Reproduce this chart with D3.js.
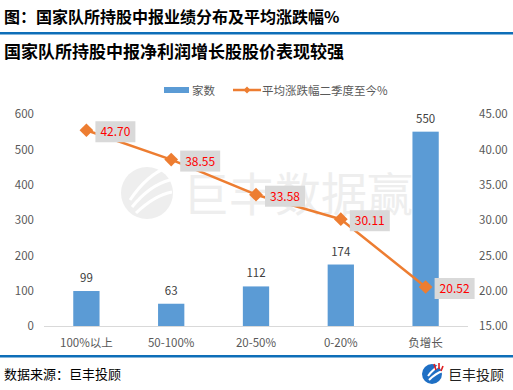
<!DOCTYPE html>
<html>
<head>
<meta charset="utf-8">
<script src="https://cdn.jsdelivr.net/npm/d3@7"></script>
<style>
body { margin: 0; background: #fff; }
svg { display: block; font-family: "Noto Sans CJK SC", "Microsoft YaHei", sans-serif; }
</style>
</head>
<body>
<div id="chart"></div>
<script>
var categories = ["100%以上", "50-100%", "20-50%", "0-20%", "负增长"];
var counts = [99, 63, 112, 174, 550];
var avgChange = [42.70, 38.55, 33.58, 30.11, 20.52];
var leftTicks = [0, 100, 200, 300, 400, 500, 600];
var rightTicks = [15, 20, 25, 30, 35, 40, 45];

var width = 513, height = 390;
var plotLeft = 44, plotRight = 468, plotTop = 114, plotBottom = 326;
var blue = "#5b9bd5", orange = "#ed7d31", axisGrey = "#595959";

var svg = d3.select("#chart").append("svg")
	.attr("width", width)
	.attr("height", height);

// header
svg.append("text")
	.attr("x", 4).attr("y", 23)
	.attr("font-size", 16).attr("font-weight", "bold").attr("fill", "#000")
	.text("图：国家队所持股中报业绩分布及平均涨跌幅%");
svg.append("rect").attr("x", 0).attr("y", 32).attr("width", width).attr("height", 2.5).attr("fill", "#0e6eb8");
svg.append("text")
	.attr("x", 4).attr("y", 58)
	.attr("font-size", 17).attr("font-weight", "bold").attr("fill", "#000")
	.text("国家队所持股中报净利润增长股股价表现较强");

// watermark
var wm = svg.append("g").attr("fill", "#eeeeee");
wm.append("circle").attr("cx", 147).attr("cy", 193).attr("r", 26);
wm.append("path")
	.attr("d", "M130,200 Q147,175 166,168 M132,207 Q150,185 170,180 M136,213 Q155,195 172,192")
	.attr("stroke", "#fff").attr("stroke-width", 3).attr("fill", "none");
wm.append("text")
	.attr("x", 183).attr("y", 211)
	.attr("font-size", 46)
	.text("巨丰数据赢");

var x = d3.scaleBand().domain(categories).range([plotLeft, plotRight]).paddingInner(0.69).paddingOuter(0.345);
var yL = d3.scaleLinear().domain([0, 600]).range([plotBottom, plotTop]);
var yR = d3.scaleLinear().domain([15, 45]).range([plotBottom, plotTop]);

// axes
var leftAxis = svg.append("g")
	.attr("transform", "translate(" + (plotLeft - 10) + ",0)")
	.call(d3.axisLeft(yL).tickValues(leftTicks).tickSize(0).tickPadding(0));
var rightAxis = svg.append("g")
	.attr("transform", "translate(" + (plotRight + 11) + ",0)")
	.call(d3.axisRight(yR).tickValues(rightTicks).tickSize(0).tickPadding(0).tickFormat(d3.format(".2f")));
[leftAxis, rightAxis].forEach(function(a) {
	a.select(".domain").remove();
	a.selectAll("text").attr("fill", axisGrey).attr("font-size", 11.5).attr("font-family", "\"Noto Sans CJK SC\", sans-serif");
});

// bars
svg.selectAll(".bar").data(counts).enter().append("rect")
	.attr("class", "bar")
	.attr("x", function(d, i) { return x(categories[i]); })
	.attr("y", function(d) { return yL(d); })
	.attr("width", x.bandwidth())
	.attr("height", function(d) { return plotBottom - yL(d); })
	.attr("fill", blue);

svg.selectAll(".barLabel").data(counts).enter().append("text")
	.attr("class", "barLabel")
	.attr("x", function(d, i) { return x(categories[i]) + x.bandwidth() / 2; })
	.attr("y", function(d) { return yL(d) - 9; })
	.attr("text-anchor", "middle")
	.attr("font-size", 11.5).attr("fill", "#404040")
	.text(function(d) { return d; });

// baseline
svg.append("line")
	.attr("x1", plotLeft).attr("x2", plotRight)
	.attr("y1", plotBottom + 0.5).attr("y2", plotBottom + 0.5)
	.attr("stroke", "#d9d9d9").attr("stroke-width", 1);

// category labels
svg.selectAll(".cat").data(categories).enter().append("text")
	.attr("class", "cat")
	.attr("x", function(d) { return x(d) + x.bandwidth() / 2; })
	.attr("y", 347)
	.attr("text-anchor", "middle")
	.attr("font-size", 11.5).attr("fill", axisGrey)
	.text(function(d) { return d; });

// line series
var cx = function(d, i) { return x(categories[i]) + x.bandwidth() / 2; };
var line = d3.line()
	.x(cx)
	.y(function(d) { return yR(d); });

svg.append("path")
	.datum(avgChange)
	.attr("d", line)
	.attr("fill", "none")
	.attr("stroke", orange)
	.attr("stroke-width", 2.5)
	.attr("stroke-linejoin", "round");

var diamond = d3.symbol().type(d3.symbolDiamond2).size(120);
svg.selectAll(".pt").data(avgChange).enter().append("path")
	.attr("class", "pt")
	.attr("d", diamond)
	.attr("transform", function(d, i) { return "translate(" + cx(d, i) + "," + yR(d) + ")"; })
	.attr("fill", orange);

var lab = svg.selectAll(".lineLabel").data(avgChange).enter().append("g")
	.attr("class", "lineLabel")
	.attr("transform", function(d, i) { return "translate(" + (cx(d, i) + 9) + "," + (yR(d) + 2) + ")"; });
lab.append("rect")
	.attr("x", 0).attr("y", -11)
	.attr("width", 40).attr("height", 21)
	.attr("fill", "#d9d9d9");
lab.append("text")
	.attr("x", 20).attr("y", 4)
	.attr("text-anchor", "middle")
	.attr("font-size", 12).attr("fill", "#ff0000")
	.text(function(d) { return d3.format(".2f")(d); });

// legend
svg.append("rect").attr("x", 164).attr("y", 87).attr("width", 25).attr("height", 6).attr("fill", blue);
svg.append("text").attr("x", 192).attr("y", 95).attr("font-size", 11.5).attr("fill", axisGrey).text("家数");
svg.append("line").attr("x1", 233).attr("x2", 261).attr("y1", 90).attr("y2", 90)
	.attr("stroke", orange).attr("stroke-width", 2.5);
svg.append("path").attr("d", d3.symbol().type(d3.symbolDiamond2).size(30)).attr("transform", "translate(247,90)").attr("fill", orange);
svg.append("text").attr("x", 262).attr("y", 95).attr("font-size", 11.5).attr("fill", axisGrey).text("平均涨跌幅二季度至今%");

// footer
svg.append("rect").attr("x", 0).attr("y", 355).attr("width", width).attr("height", 2.5).attr("fill", "#0e6eb8");
svg.append("text")
	.attr("x", 4).attr("y", 379)
	.attr("font-size", 13).attr("fill", "#000")
	.text("数据来源：巨丰投顾");

// logo
var logo = svg.append("g").attr("transform", "translate(432,374)");
logo.append("circle").attr("r", 10).attr("fill", "#1e6fc4");
logo.append("path").attr("d", "M-4,2 Q2,-6 9,-9 M-3,6 Q4,-1 11,-3").attr("stroke", "#fff").attr("stroke-width", 2).attr("fill", "none");
logo.append("path").attr("d", "M2,-10 L4,-4 M7,-11 L7,-5 M11,-8 L9,-3").attr("stroke", "#e02020").attr("stroke-width", 1.6);
svg.append("text")
	.attr("x", 448).attr("y", 380)
	.attr("font-size", 14).attr("fill", "#222")
	.text("巨丰投顾");
</script>
</body>
</html>
